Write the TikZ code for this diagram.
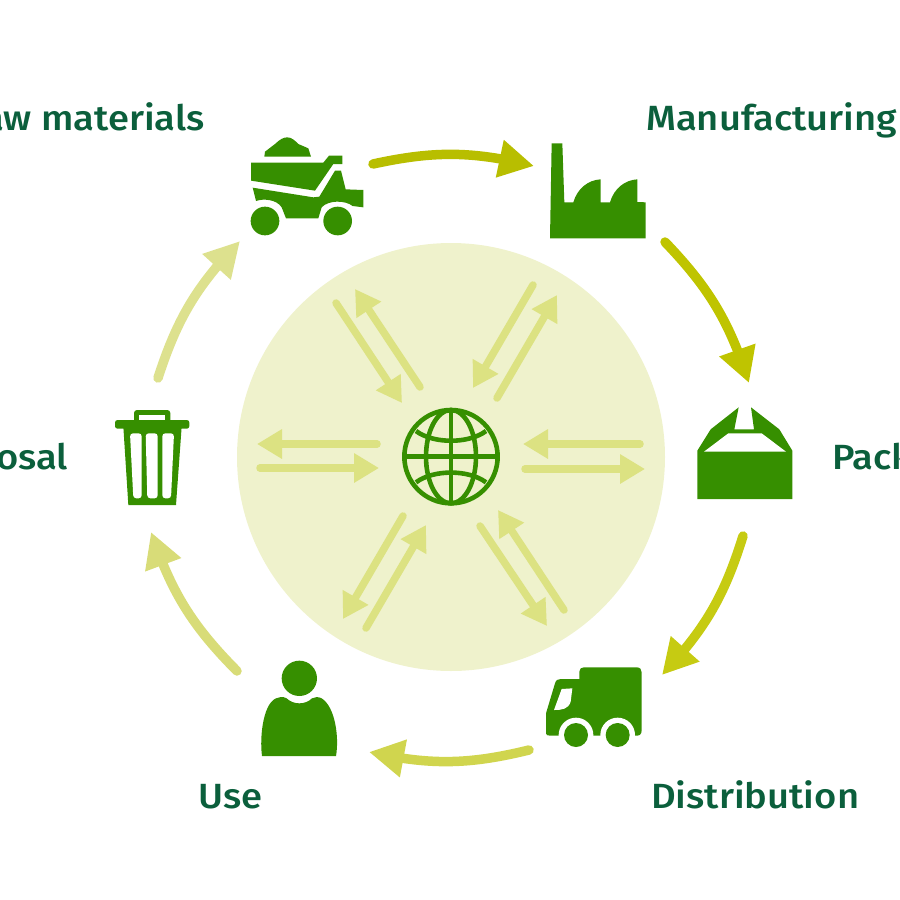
\documentclass[tikz,border=0pt]{standalone}
\usepackage{fontspec}
\setmainfont{Fira Sans Medium}[FakeStretch=1.09]
\usetikzlibrary{arrows.meta,bending}
\definecolor{icon}{HTML}{368F00}
\definecolor{labelc}{HTML}{0B5F3C}
\definecolor{disc}{HTML}{EFF2CC}
\definecolor{inarrow}{HTML}{DCE282}
\definecolor{aA}{HTML}{B8BE00}
\definecolor{aB}{HTML}{BFC400}
\definecolor{aC}{HTML}{C6CB12}
\definecolor{aD}{HTML}{D0D54E}
\definecolor{aE}{HTML}{D8DC78}
\definecolor{aF}{HTML}{DDE18E}
\tikzset{
 x=1pt,y=-1pt,
 lbl/.style={text=labelc,font=\fontsize{35}{35}\selectfont,inner sep=0pt},
 outarrow/.style={line width=9.5pt,line cap=round,-{Triangle[length=35pt,width=36pt,flex=1]}},
 inner arrow/.style={draw=inarrow,line width=7.5pt,line cap=round,-{Triangle[length=25pt,width=28pt]}},
 globeline/.style={draw=icon,line width=4.6pt},
 zoomA/.style={shift={(#1)},scale=0.33333},
}
\begin{document}
\begin{tikzpicture}
\useasboundingbox (0,0) rectangle (900,900);
\clip (0,0) rectangle (900,900);
\node[circle,fill=disc,minimum size=428pt,inner sep=0pt] (disc) at (451,457) {};
% outer arrow ends
\coordinate (o1a) at (373,164); \coordinate (o1b) at (534,166);
\coordinate (o2a) at (665,242); \coordinate (o2b) at (749,383);
\coordinate (o3a) at (743,536); \coordinate (o3b) at (662,675);
\coordinate (o4a) at (529,750); \coordinate (o4b) at (369,752);
\coordinate (o5a) at (237,671); \coordinate (o5b) at (151,532);
\coordinate (o6a) at (158,378); \coordinate (o6b) at (240,241);
\draw[outarrow,aA] (o1a) to[bend left=13] (o1b);
\draw[outarrow,aB] (o2a) to[bend left=13] (o2b);
\draw[outarrow,aC] (o3a) to[bend left=13] (o3b);
\draw[outarrow,aD] (o4a) to[bend left=13] (o4b);
\draw[outarrow,aE] (o5a) to[bend left=13] (o5b);
\draw[outarrow,aF] (o6a) to[bend left=13] (o6b);
% inner arrow ends
\foreach \n/\ax/\ay/\bx/\by in {
 r1/640/444/523/444, r2/525/469/645/469,
 l1/377/444/257/444, l2/260/468/379/468,
 tr1/533/285/473/388, tr2/497/398/557/295,
 tl1/336/303/402/403, tl2/420/387/355/289,
 bl1/403/516/343/619, bl2/366/628/426/525,
 br1/564/610/498/510, br2/480/526/547/626}{
 \coordinate (\n a) at (\ax,\ay); \coordinate (\n b) at (\bx,\by);
 \draw[inner arrow] (\n a) -- (\n b);
}
% globe
\begin{scope}[zoomA={390,395}]
 \draw[globeline] (183,185) circle (140);
 \draw[globeline] (183,185) ellipse (75 and 140);
 \draw[globeline] (183,45) -- (183,325);
 \draw[globeline] (43,185) -- (323,185);
 \draw[globeline] (78,108) .. controls (130,147) and (236,147) .. (288,108);
 \draw[globeline] (78,262) .. controls (130,223) and (236,223) .. (288,262);
\end{scope}
% dump truck
\begin{scope}[zoomA={230,120}]
 \fill[icon] (103,110) -- (105,95) -- (135,72) .. controls (150,58) and (160,52) .. (172,52) .. controls (185,52) and (195,62) .. (205,72) -- (235,85) -- (243,110) -- cycle;
 \fill[icon] (63,128) -- (280,128) -- (297,107) -- (337,107) -- (337,132) -- (310,132) -- (255,212) -- (63,182) -- cycle;
 \fill[icon] (68,203) -- (250,232) -- (268,230) -- (315,152) -- (333,152) -- (347,208) -- (400,210) -- (400,262) -- (368,258) .. controls (345,240) and (295,240) .. (275,262) -- (265,295) -- (168,295) -- (155,262) .. controls (140,238) and (100,235) .. (78,243) -- cycle;
 \fill[icon] (105,303) circle (43);
 \fill[icon] (323,303) circle (43);
\end{scope}
% factory
\begin{scope}[zoomA={530,130}]
 \fill[icon] (60,325) -- (65,40) -- (97,40) -- (103,217) -- (130,217) .. controls (142,175) and (175,150) .. (212,148) -- (212,217) -- (240,217) .. controls (252,175) and (285,150) .. (322,148) -- (322,216) -- (347,217) -- (347,325) -- cycle;
\end{scope}
% box
\begin{scope}[zoomA={680,390}]
 \fill[icon] (52,327) -- (52,182) -- (92,118) -- (176,52) -- (163,118) -- (222,118) -- (213,52) -- (298,118) -- (337,182) -- (337,327) -- cycle;
 \fill[white] (72,185) -- (145,130) -- (245,130) -- (318,185) -- cycle;
\end{scope}
% delivery truck
\begin{scope}[zoomA={530,650}]
 \fill[icon] (48,250) -- (48,190) -- (75,100) .. controls (78,90) and (84,87) .. (92,87) -- (148,87) -- (148,65) .. controls (148,56) and (154,52) .. (162,52) -- (320,52) .. controls (330,52) and (335,58) .. (335,67) -- (335,240) .. controls (335,252) and (330,257) .. (320,257) -- (60,257) .. controls (52,257) and (48,255) .. (48,250) -- cycle;
 \fill[white] (138,255) circle (52);
 \fill[white] (263,255) circle (52);
 \fill[icon] (138,255) circle (36);
 \fill[icon] (263,255) circle (36);
 \fill[white] (95,117) -- (127,115) -- (122,155) .. controls (115,178) and (95,180) .. (72,180) -- cycle;
\end{scope}
% person
\begin{scope}[zoomA={240,650}]
 \fill[icon] (178,85) circle (53);
 \fill[icon] (66,318) .. controls (58,260) and (70,150) .. (115,143) .. controls (125,140) and (135,140) .. (140,145) .. controls (160,165) and (196,165) .. (216,145) .. controls (225,140) and (235,140) .. (245,145) .. controls (285,170) and (298,260) .. (288,318) -- cycle;
\end{scope}
% trash
\begin{scope}[zoomA={100,400}]
 \fill[icon,rounded corners=2.5pt] (45,60) rectangle (268,86);
 \fill[icon,rounded corners=3pt] (102,30) rectangle (211,70);
 \fill[white] (117,45) rectangle (195,60);
 \fill[icon] (70,80) -- (245,80) -- (228,315) -- (85,315) -- cycle;
 \fill[white,rounded corners=3pt] (90,100) -- (125,100) -- (125,295) -- (100,295) -- cycle;
 \fill[white,rounded corners=3pt] (137,100) -- (173,100) -- (173,295) -- (142,295) -- cycle;
 \fill[white,rounded corners=3pt] (187,100) -- (222,100) -- (213,295) -- (187,295) -- cycle;
\end{scope}
% labels
\node[lbl,anchor=base east] (raw) at (205,130) {Raw materials};
\node[lbl,anchor=base west] (man) at (646,130) {Manufacturing};
\node[lbl,anchor=base west] (pack) at (832,469) {Packaging};
\node[lbl,anchor=base west] (dist) at (651,808) {Distribution};
\node[lbl,anchor=base west] (use) at (198,808) {Use};
\node[lbl,anchor=base east] (disp) at (68,469) {Disposal};
\end{tikzpicture}
\end{document}
